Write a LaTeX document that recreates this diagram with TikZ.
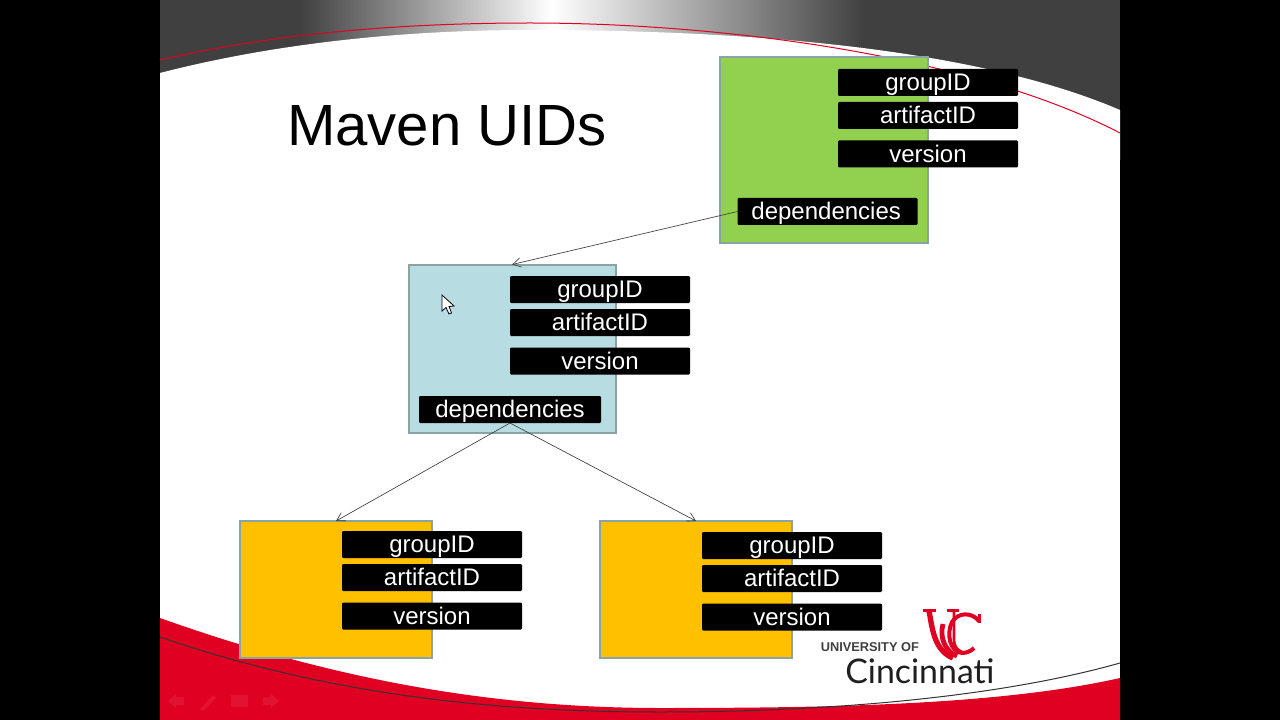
\documentclass[tikz,border=0pt]{standalone}
\usepackage{fontspec}
\setmainfont{Liberation Sans}
\newfontfamily\logofont{Lato}
\usetikzlibrary{arrows.meta}
\definecolor{bordergrey}{HTML}{8AA3A3}
\definecolor{ucred}{HTML}{E00022}
\definecolor{topgrey}{HTML}{404040}
\definecolor{boxgreen}{HTML}{92D050}
\definecolor{boxblue}{HTML}{B7DDE3}
\definecolor{boxyellow}{HTML}{FFC000}
\tikzset{
  px/.style={x=0.75pt,y=-0.75pt},
  artefact/.style={draw=bordergrey,line width=1.5pt,inner sep=0pt,outer sep=0pt,anchor=north west},
  idbox/.style={fill=black,text=white,inner sep=0pt,outer sep=0pt,minimum height=20.25pt,rounded corners=0.8pt,
    font=\fontsize{18}{20}\selectfont,text height=16pt,text depth=3.5pt},
  longbox/.style={idbox,minimum width=135pt},
  depbox/.style={idbox,minimum width=135pt},
  link/.style={draw=black!75,line width=0.5pt,-{Straight Barb[length=6pt,width=7pt,line width=0.5pt]}},
  logostroke/.style={draw=ucred,line cap=butt},
}
\newcommand{\idstack}[3]{%
  \node[longbox] (#1g) at (#2,#3) {groupID};
  \node[longbox] (#1a) at (#2,#3+33) {artifactID};
  \node[longbox] (#1v) at (#2,#3+71.5) {version};
}
\begin{document}
\begin{tikzpicture}[px]
\useasboundingbox (0,0) rectangle (1280,720);
\fill[black] (0,0) rectangle (1280,720);
% slide
\fill[white] (160,0) rectangle (1120,720);
% top band gradient
\fill[left color=topgrey,right color=white] (300,0) rectangle (552,100);
\fill[left color=white,right color=topgrey] (552,0) rectangle (864,100);
\fill[topgrey] (160,0) rectangle (301,100);
\fill[topgrey] (863,0) rectangle (1120,120);
\fill[white] (160,73) .. controls (280,42) and (410,30) .. (530,30)
  .. controls (760,30) and (980,50) .. (1120,110) -- (1120,160) -- (160,160) -- cycle;
\draw[ucred,line width=0.75pt] (160,60) .. controls (280,32) and (410,23) .. (530,23)
  .. controls (720,23) and (970,55) .. (1120,133);
% bottom band
\fill[ucred] (160,618) .. controls (320,675) and (480,708) .. (660,708)
  .. controls (830,708) and (1000,705) .. (1120,678) -- (1120,720) -- (160,720) -- cycle;
\draw[black!80,line width=0.75pt] (160,637) .. controls (320,692) and (480,712) .. (660,712)
  .. controls (830,712) and (1000,697) .. (1120,663);
% faint navigation icons
\begin{scope}[fill=white,fill opacity=0.07]
  \fill (184,697) -- (176,697) -- (176,694) -- (168,701) -- (176,708) -- (176,705) -- (184,705) -- cycle;
  \fill (201,708) -- (213,695) -- (216,698) -- (204,710) -- (200,710) -- cycle;
  \fill (231,695) rectangle (248,707);
  \fill (263,697) -- (271,697) -- (271,694) -- (279,701) -- (271,708) -- (271,705) -- (263,705) -- cycle;
\end{scope}
% title
\node[inner sep=0pt,font=\fontsize{43.6}{48}\selectfont] (title) at (447,126) {Maven UIDs};
% artefact boxes
\node[artefact,fill=boxgreen,minimum width=156pt,minimum height=139pt] (top) at (719.5,57.5) {};
\node[artefact,fill=boxblue,minimum width=155.5pt,minimum height=126.5pt] (mid) at (408.5,264.5) {};
\node[artefact,fill=boxyellow,minimum width=144pt,minimum height=102.5pt] (left) at (240,521) {};
\node[artefact,fill=boxyellow,minimum width=144pt,minimum height=102.5pt] (right) at (600,521) {};
% id stacks
\idstack{t}{928}{82.5}
\idstack{m}{600}{289.5}
\idstack{l}{432}{544.5}
\idstack{r}{792}{545.5}
\node[depbox] (tdep) at (827.5,211.5) {dependencies\kern2pt};
\node[depbox,minimum width=136.5pt] (mdep) at (510,409.5) {dependencies};
% connectors
\draw[link] (tdep.west) -- (mid.north);
\draw[link] (mdep.south) -- (left.north);
\draw[link] (mdep.south) -- (right.north);
% cursor
\draw[black,fill=white,line width=0.6pt] (442,295) -- (442,311) -- (446,307.5) -- (449,314) -- (451.5,313) -- (449,306.5) -- (454,306) -- cycle;
% logo
\node[inner sep=0pt,font=\fontsize{9.6}{10}\selectfont\bfseries,text=black!75,anchor=west] (univ) at (820.5,647.5) {UNIVERSITY OF};
\node[inner sep=0pt,font=\logofont\fontsize{25.4}{28}\selectfont,text=black!88,anchor=base west] (cin) at (845,683) {Cincinnati};
\draw[logostroke,line width=1.8pt] (923,610.5) -- (936,610.5);
\draw[logostroke,line width=4pt] (929,611) .. controls (932,625) and (933,650) .. (953,658);
\draw[logostroke,line width=3.6pt] (943,624) .. controls (939,638) and (946,652) .. (957,656);
\draw[logostroke,line width=1.8pt] (947,610.5) -- (959,610.5);
\draw[logostroke,line width=2pt] (954,611) -- (954,640) .. controls (954,646) and (957,650) .. (962,652);
\draw[logostroke,line width=3pt] (979,621) .. controls (972,612) and (958,612) .. (952,622)
  .. controls (946,634) and (950,652) .. (962,653) .. controls (967,653) and (971,651) .. (974,648);
\draw[logostroke,line width=1.8pt] (979.5,614) -- (979.5,623);
\end{tikzpicture}
\end{document}
